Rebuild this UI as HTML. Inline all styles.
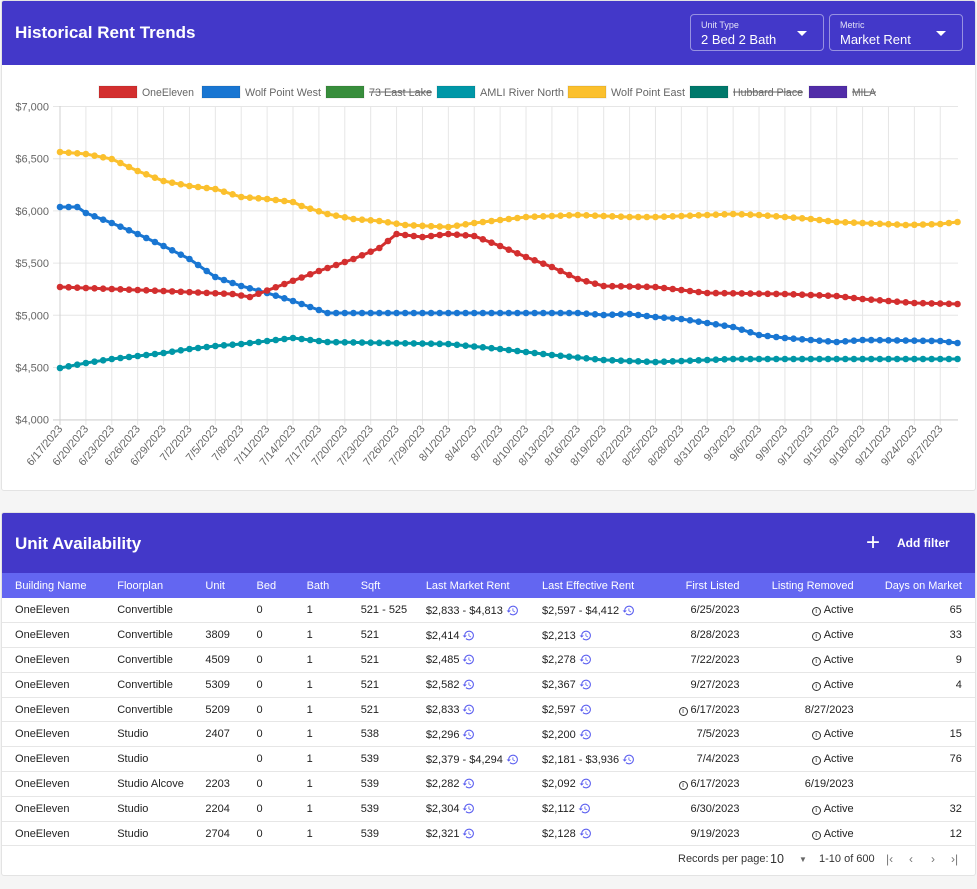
<!DOCTYPE html>
<html><head><meta charset="utf-8"><style>
*{box-sizing:border-box}
body{margin:0;width:977px;height:889px;background:#f5f5f5;font-family:"Liberation Sans",Arial,sans-serif;position:relative;overflow:hidden}
.card{position:absolute;left:1px;width:975px;background:#fff;border:1px solid #e3e3e3;border-radius:3px;overflow:hidden}
.hdr{background:#4338c9;color:#fff;position:relative}
.title{position:absolute;left:13px;font-size:17px;font-weight:bold}
.sel{position:absolute;top:13px;height:37px;border:1px solid rgba(255,255,255,.45);border-radius:4px;color:#fff}
.sel .l{position:absolute;left:10px;top:5px;font-size:9px;opacity:.85}
.sel .v{position:absolute;left:10px;top:17px;font-size:13px}
.sel .a{position:absolute;right:16px;top:16px;width:0;height:0;border-left:5px solid transparent;border-right:5px solid transparent;border-top:5px solid #fff}
table{border-collapse:collapse;width:100%;font-size:11px;color:#222}
th{background:#6366f1;color:#fff;font-weight:normal;height:25px;text-align:left;padding:0;font-size:11px}
td{height:24.8px;border-bottom:1px solid #e6e6e6;padding:0;white-space:nowrap}
.r{text-align:right}
.h{display:inline-block;width:13px;height:13px;vertical-align:-3px;margin-left:3px}
.i{display:inline-block;width:9px;height:9px;border:1px solid #333;border-radius:50%;font-size:7px;line-height:8px;text-align:center;vertical-align:0;margin-right:3px}
.f{position:absolute;top:340px;white-space:nowrap;font-size:11px;color:#333}
</style></head><body>
<div class="card" style="top:0;height:491px">
 <div class="hdr" style="height:64px">
  <div class="title" style="top:22px">Historical Rent Trends</div>
  <div class="sel" style="left:688px;width:134px"><div class="l">Unit Type</div><div class="v">2 Bed 2 Bath</div><div class="a"></div></div>
  <div class="sel" style="left:827px;width:134px"><div class="l">Metric</div><div class="v">Market Rent</div><div class="a"></div></div>
 </div>
 <svg id="ch" width="975" height="427" style="position:absolute;left:-1px;top:64px" font-family="Liberation Sans, Arial, sans-serif"></svg>
</div>
<div class="card" style="top:512px;height:364px">
 <div class="hdr" style="height:60px">
  <div class="title" style="top:21px">Unit Availability</div>
  <div style="position:absolute;left:864px;top:16px;font-size:24px;font-weight:300">+</div>
  <div style="position:absolute;left:895px;top:23px;font-size:12px;font-weight:bold">Add filter</div>
 </div>
 <table id="t"></table>
 <span class="f" style="left:676px">Records per page:</span>
 <span class="f" style="left:768px;font-size:12.5px;top:339px">10</span>
 <span class="f" style="left:797px;font-size:8px;color:#666;top:342px">▼</span>
 <span class="f" style="left:817px">1-10 of 600</span>
 <span class="f" style="left:884px;color:#777;font-size:12px;top:339px">|‹</span>
 <span class="f" style="left:907px;color:#777;font-size:12px;top:339px">‹</span>
 <span class="f" style="left:929px;color:#777;font-size:12px;top:339px">›</span>
 <span class="f" style="left:949px;color:#777;font-size:12px;top:339px">›|</span>
</div>
<script>
const S='http://www.w3.org/2000/svg';const svg=document.getElementById('ch');
function el(n,a,t){const e=document.createElementNS(S,n);for(const k in a)e.setAttribute(k,a[k]);if(t!=null)e.textContent=t;svg.appendChild(e);return e;}
const oy=-64, X0=59, DX=8.63;
function Y(y){return y+oy;}
const leg=[["OneEleven","#d32f2f",98,52],["Wolf Point West","#1976d2",201,76],["73 East Lake","#388e3c",325,63],["AMLI River North","#0097a7",436,84],["Wolf Point East","#fbc02d",567,74],["Hubbard Place","#00796b",689,70],["MILA","#512da8",808,24]];
leg.forEach((l,i)=>{el('rect',{x:l[2],y:Y(85),width:38,height:12,fill:l[1],stroke:'rgba(0,0,0,.1)'});const tx=l[2]+43;el('text',{x:tx,y:Y(95),'font-size':11,fill:'#666',textLength:l[3],lengthAdjust:'spacingAndGlyphs'},l[0]);if(i==2||i==5||i==6){el('line',{x1:tx,x2:tx+l[3],y1:Y(91),y2:Y(91),stroke:'#666','stroke-width':1});}});
for(let i=0;i<=6;i++){const y=105.5+i*52.2;el('line',{x1:52,x2:957,y1:Y(y),y2:Y(y),stroke:'#e6e6e6'});el('text',{x:48,y:Y(y+4),'font-size':11,fill:'#666','text-anchor':'end'},'$'+(7000-i*500).toLocaleString('en-US'));}
for(let k=0;k<35;k++){const x=X0+k*3*DX;el('line',{x1:x,x2:x,y1:Y(105),y2:Y(424),stroke:'#e6e6e6'});const dd=new Date(2023,5,17+k*3);const s=(dd.getMonth()+1)+'/'+dd.getDate()+'/2023';el('text',{x:x+3,y:Y(428),'font-size':11,fill:'#666','text-anchor':'end',transform:`rotate(-50 ${x+3} ${Y(428)})`},s);}
el('line',{x1:X0,x2:X0,y1:Y(105),y2:Y(424),stroke:'#d0d0d0'});
el('line',{x1:52,x2:957,y1:Y(419),y2:Y(419),stroke:'#d0d0d0'});
function interp(kp){const r=[];for(let d=0;d<=104;d++){let i=0;while(i<kp.length-1&&kp[i+1][0]<d)i++;const a=kp[i],b=kp[Math.min(i+1,kp.length-1)];const t=b[0]==a[0]?0:(d-a[0])/(b[0]-a[0]);r.push(a[1]+(b[1]-a[1])*Math.max(0,Math.min(1,t)));}return r;}
const series=[
["#0097a7",[[0,367],[3,362],[6,358],[9,355],[12,352],[15,348],[18,345],[21,343],[24,340],[27,337],[31,341],[45,343],[51,348],[57,354],[63,359],[69,361],[72,360],[78,358],[104,358]]],
["#1976d2",[[0,206],[2,206],[3,212],[6,222],[9,233],[12,245],[15,258],[18,276],[21,285],[24,292],[27,300],[31,312],[60,312],[63,314],[66,313],[69,316],[72,318],[75,322],[78,326],[81,334],[84,337],[87,339],[90,341],[93,339],[102,340],[104,342]]],
["#d32f2f",[[0,286],[12,290],[20,293],[22,296],[26,283],[30,270],[34,258],[37,247],[39,233],[42,236],[45,233],[48,235],[51,245],[54,256],[57,266],[60,278],[63,285],[69,286],[72,289],[75,292],[84,293],[90,295],[93,298],[96,300],[99,302],[104,303]]],
["#fbc02d",[[0,151],[3,153],[6,158],[9,170],[12,180],[15,185],[18,188],[21,196],[24,198],[27,201],[28,205],[31,213],[34,218],[37,220],[40,224],[45,226],[48,222],[51,219],[54,216],[57,215],[60,214],[66,216],[69,216],[72,215],[78,213],[81,214],[84,216],[87,218],[90,221],[93,222],[98,224],[102,223],[104,221]]]];
series.forEach(s=>{const ys=interp(s[1]);let p='';ys.forEach((y,i)=>{p+=(i?'L':'M')+(X0+i*DX).toFixed(1)+' '+Y(y).toFixed(1);});el('path',{d:p,fill:'none',stroke:s[0],'stroke-width':3});ys.forEach((y,i)=>el('circle',{cx:X0+i*DX,cy:Y(y),r:3.3,fill:s[0]}));});
const H='<svg class="h" viewBox="0 0 24 24"><path d="M13 3a9 9 0 0 0-9 9H1l4 4 4-4H6a7 7 0 1 1 2.05 4.95l-1.42 1.42A9 9 0 1 0 13 3zm-1 5v5l4.25 2.520.77-1.28-3.52-2.09V8z" fill="#5b5ff0"/></svg>';
const rows=[["OneEleven","Convertible","","0","1","521 - 525","$2,833 - $4,813","$2,597 - $4,412","6/25/2023","a","65"],
["OneEleven","Convertible","3809","0","1","521","$2,414","$2,213","8/28/2023","a","33"],
["OneEleven","Convertible","4509","0","1","521","$2,485","$2,278","7/22/2023","a","9"],
["OneEleven","Convertible","5309","0","1","521","$2,582","$2,367","9/27/2023","a","4"],
["OneEleven","Convertible","5209","0","1","521","$2,833","$2,597","i6/17/2023","8/27/2023",""],
["OneEleven","Studio","2407","0","1","538","$2,296","$2,200","7/5/2023","a","15"],
["OneEleven","Studio","","0","1","539","$2,379 - $4,294","$2,181 - $3,936","7/4/2023","a","76"],
["OneEleven","Studio Alcove","2203","0","1","539","$2,282","$2,092","i6/17/2023","6/19/2023",""],
["OneEleven","Studio","2204","0","1","539","$2,304","$2,112","6/30/2023","a","32"],
["OneEleven","Studio","2704","0","1","539","$2,321","$2,128","9/19/2023","a","12"]];
const W=[102,88,51,50,54,65,116,114,83,114,106,14];
let h='<tr><th style="width:13px"></th>'+["Building Name","Floorplan","Unit","Bed","Bath","Sqft","Last Market Rent","Last Effective Rent"].map((x,i)=>`<th style="width:${W[i]}px">${x}</th>`).join('')+`<th class="r" style="width:83px">First Listed</th><th class="r" style="width:114px">Listing Removed</th><th class="r" style="width:108px">Days on Market</th><th style="width:13px"></th></tr>`;
rows.forEach(r=>{h+='<tr><td></td>';for(let i=0;i<8;i++)h+=`<td>${r[i]}${i>=6?H:''}</td>`;
const fl=r[8][0]=='i'?'<span class="i">i</span>'+r[8].slice(1):r[8];
const lr=r[9]=='a'?'<span class="i">i</span>Active':r[9];
h+=`<td class="r">${fl}</td><td class="r">${lr}</td><td class="r">${r[10]}</td><td></td></tr>`;});
document.getElementById('t').innerHTML=h;
</script>
</body></html>
